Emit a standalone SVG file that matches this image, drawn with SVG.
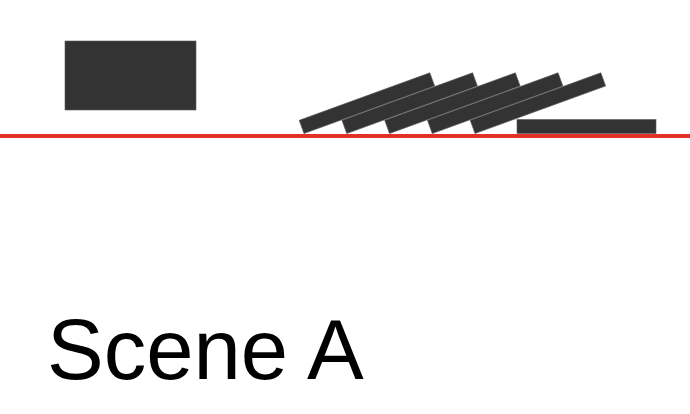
<svg xmlns="http://www.w3.org/2000/svg" width="690" height="414" viewBox="0 0 690 414">
  <style>
    .blk { fill: #333333; stroke: #5a5a5a; stroke-width: 0.6; }
    .ground { stroke: #e5302a; stroke-width: 4; fill: none; }
    .title { font-family: "Liberation Sans", Arial, sans-serif; font-size: 85px; fill: #000000; }
  </style>
  <rect x="0" y="0" width="690" height="414" fill="#ffffff"/>
  <g id="block">
    <rect class="blk" x="65" y="41" width="131" height="69"/>
  </g>
  <g id="dominoes">
    <rect class="blk" x="0" y="-14" width="139" height="14" transform="translate(304,133.5) rotate(-20)"/>
    <rect class="blk" x="0" y="-14" width="139" height="14" transform="translate(346.75,133.5) rotate(-20)"/>
    <rect class="blk" x="0" y="-14" width="139" height="14" transform="translate(389.5,133.5) rotate(-20)"/>
    <rect class="blk" x="0" y="-14" width="139" height="14" transform="translate(432.25,133.5) rotate(-20)"/>
    <rect class="blk" x="0" y="-14" width="139" height="14" transform="translate(475,133.5) rotate(-20)"/>
    <rect class="blk" x="517" y="119.5" width="139" height="14"/>
  </g>
  <line class="ground" x1="0" y1="136" x2="690" y2="136"/>
  <text class="title" x="47" y="379">Scene A</text>
</svg>
